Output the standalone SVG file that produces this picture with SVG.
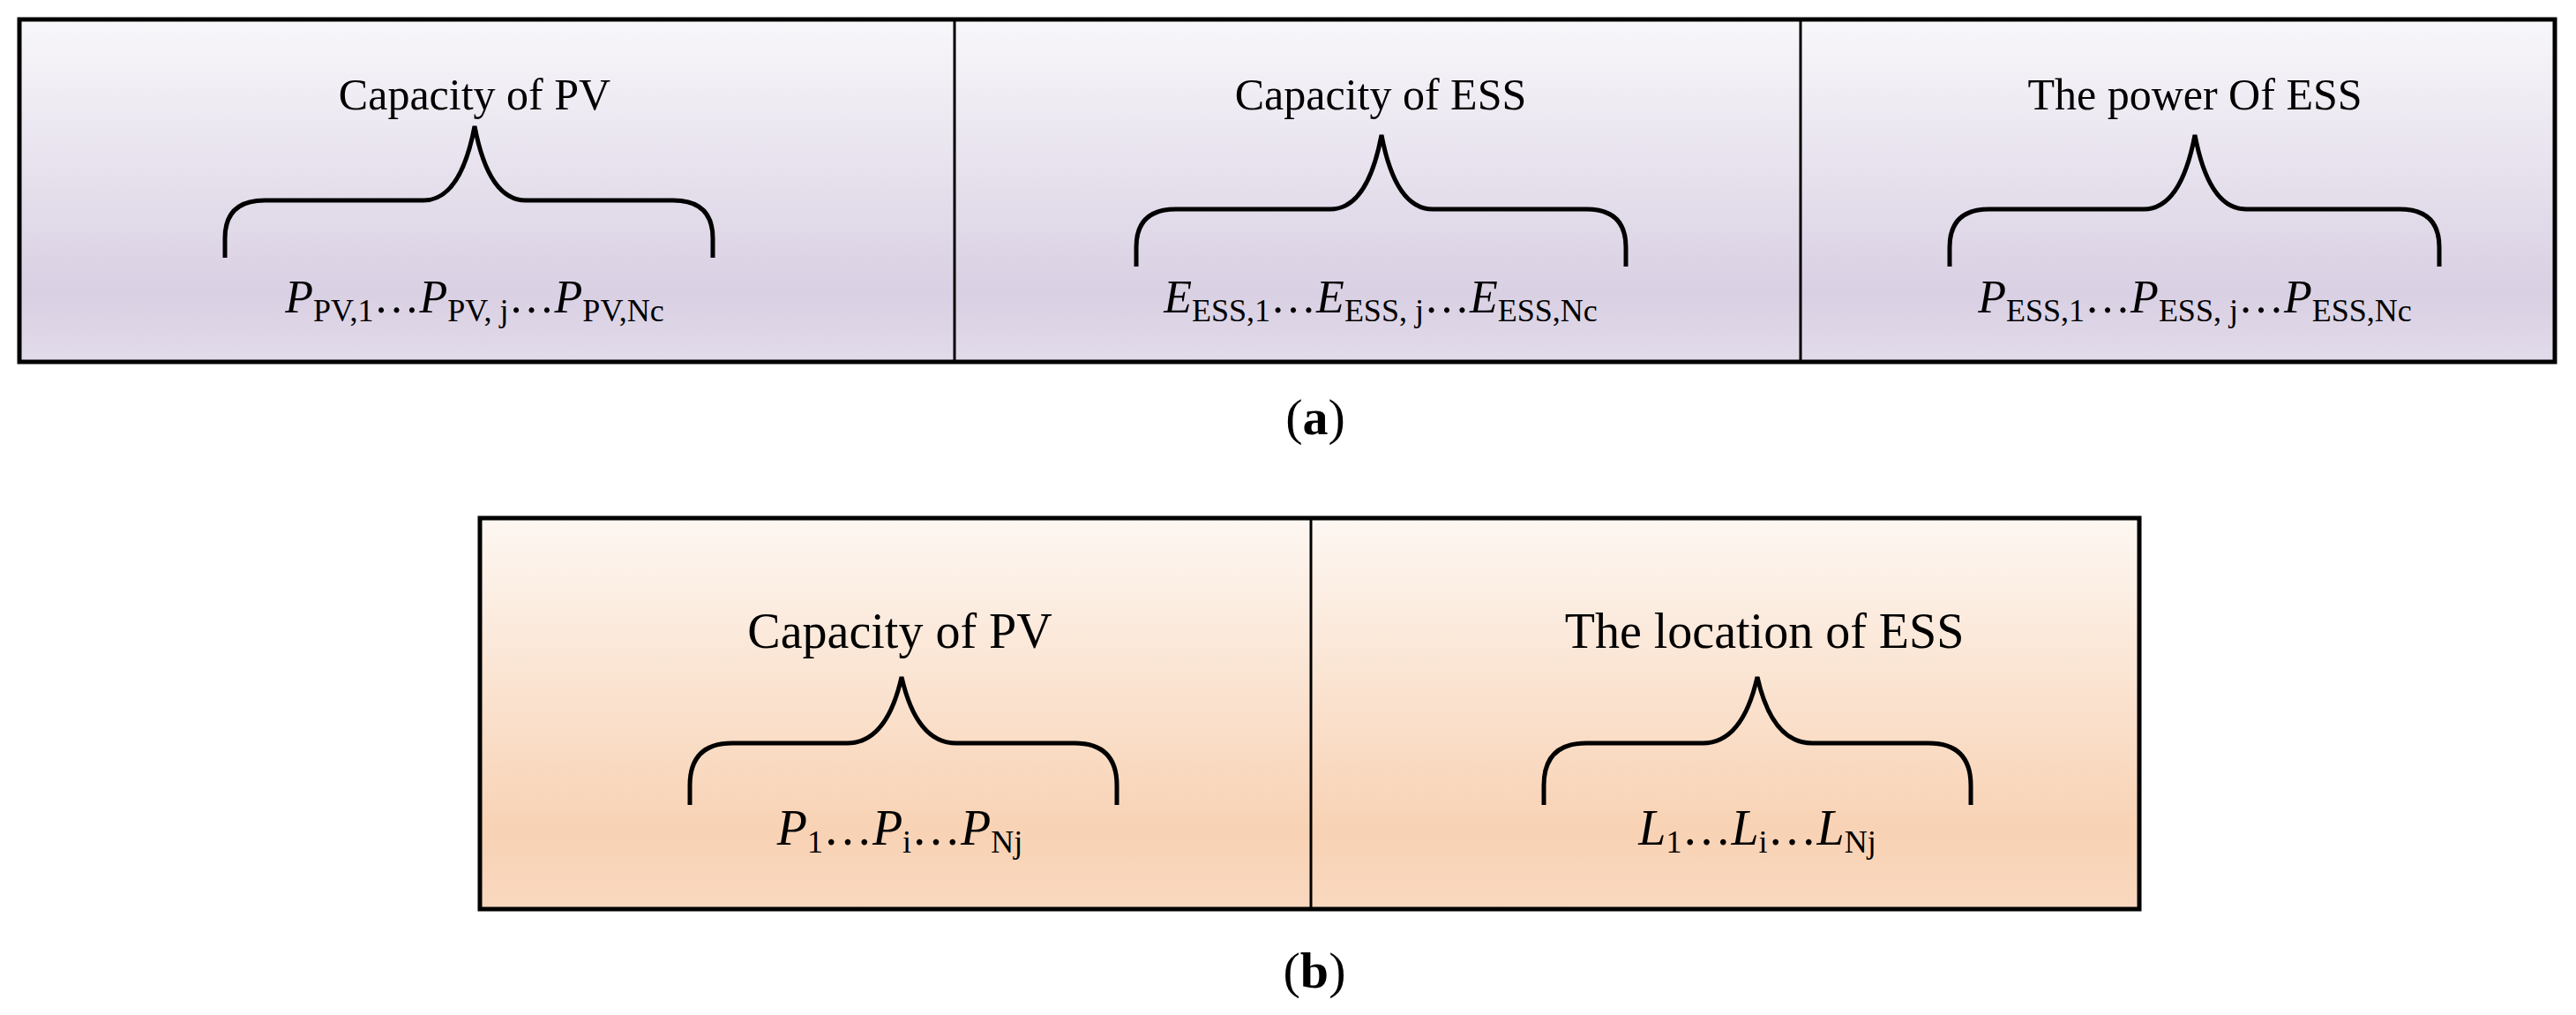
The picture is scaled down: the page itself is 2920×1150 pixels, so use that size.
<svg xmlns="http://www.w3.org/2000/svg" width="2920" height="1150" viewBox="0 0 2920 1150">
<defs>
<linearGradient id="ga" x1="0" y1="0" x2="0" y2="1"><stop offset="0" stop-color="#f8f7fa"/><stop offset="0.8" stop-color="#d9d0e3"/><stop offset="1" stop-color="#e2dbea"/></linearGradient>
<linearGradient id="gb" x1="0" y1="0" x2="0" y2="1"><stop offset="0" stop-color="#fdf7f2"/><stop offset="0.8" stop-color="#f8d2b4"/><stop offset="1" stop-color="#f9d8bf"/></linearGradient>
</defs>
<style>
.box{stroke:#000;stroke-width:5}
.div{stroke:#000;stroke-width:3}
.br{fill:none;stroke:#000;stroke-width:5}
text{font-family:"Liberation Serif","Times New Roman",serif;fill:#000;text-anchor:middle}
.t{font-size:50px}
.tb{font-size:56px}
.f{font-size:52px}
.fb{font-size:56px}
.i{font-style:italic}
.s{font-size:36px}
.lab{font-size:58px}
</style>
<g id="panel-a">
<rect class="box" x="22" y="22" width="2874" height="388" fill="url(#ga)"/>
<line class="div" x1="1082" y1="22" x2="1082" y2="410"/>
<line class="div" x1="2041" y1="22" x2="2041" y2="410"/>
</g>
<g id="a1">
<text class="t" x="538" y="124">Capacity of PV</text>
<path class="br" d="M255,292 V270 Q255,227 300,227 H480 Q522,227 538,143 Q554,227 596,227 H763 Q808,227 808,270 V292"/>
<text class="f" x="538" y="354"><tspan class="i">P</tspan><tspan class="s" dy="10">PV,1</tspan><tspan dy="-10">…</tspan><tspan class="i">P</tspan><tspan class="s" dy="10">PV, j</tspan><tspan dy="-10">…</tspan><tspan class="i">P</tspan><tspan class="s" dy="10">PV,Nc</tspan></text>
</g>
<g id="a2">
<text class="t" x="1565" y="124">Capacity of ESS</text>
<path class="br" d="M1288,302 V280 Q1288,237 1333,237 H1508 Q1550,237 1566,153 Q1582,237 1624,237 H1798 Q1843,237 1843,280 V302"/>
<text class="f" x="1565" y="354"><tspan class="i">E</tspan><tspan class="s" dy="10">ESS,1</tspan><tspan dy="-10">…</tspan><tspan class="i">E</tspan><tspan class="s" dy="10">ESS, j</tspan><tspan dy="-10">…</tspan><tspan class="i">E</tspan><tspan class="s" dy="10">ESS,Nc</tspan></text>
</g>
<g id="a3">
<text class="t" x="2488" y="124">The power Of ESS</text>
<path class="br" d="M2210,302 V280 Q2210,237 2255,237 H2430 Q2472,237 2488,153 Q2504,237 2546,237 H2720 Q2765,237 2765,280 V302"/>
<text class="f" x="2488" y="354"><tspan class="i">P</tspan><tspan class="s" dy="10">ESS,1</tspan><tspan dy="-10">…</tspan><tspan class="i">P</tspan><tspan class="s" dy="10">ESS, j</tspan><tspan dy="-10">…</tspan><tspan class="i">P</tspan><tspan class="s" dy="10">ESS,Nc</tspan></text>
</g>
<text class="lab" x="1491" y="492">(<tspan font-weight="bold">a</tspan>)</text>
<g id="panel-b">
<rect class="box" x="544" y="587" width="1881" height="443" fill="url(#gb)"/>
<line class="div" x1="1486" y1="587" x2="1486" y2="1030"/>
</g>
<g id="b1">
<text class="tb" x="1020" y="734">Capacity of PV</text>
<path class="br" d="M782,912 V890 Q782,842 830,842 H960 Q1005,842 1022,767 Q1039,842 1084,842 H1218 Q1266,842 1266,890 V912"/>
<text class="fb" x="1020" y="957"><tspan class="i">P</tspan><tspan class="s" dy="9">1</tspan><tspan dy="-9">…</tspan><tspan class="i">P</tspan><tspan class="s" dy="9">i</tspan><tspan dy="-9">…</tspan><tspan class="i">P</tspan><tspan class="s" dy="9">Nj</tspan></text>
</g>
<g id="b2">
<text class="tb" x="2000" y="734">The location of ESS</text>
<path class="br" d="M1750,912 V890 Q1750,842 1798,842 H1930 Q1975,842 1992,767 Q2009,842 2054,842 H2186 Q2234,842 2234,890 V912"/>
<text class="fb" x="1992" y="957"><tspan class="i">L</tspan><tspan class="s" dy="9">1</tspan><tspan dy="-9">…</tspan><tspan class="i">L</tspan><tspan class="s" dy="9">i</tspan><tspan dy="-9">…</tspan><tspan class="i">L</tspan><tspan class="s" dy="9">Nj</tspan></text>
</g>
<text class="lab" x="1490" y="1119">(<tspan font-weight="bold">b</tspan>)</text>
<g id="connectors"/>
</svg>
